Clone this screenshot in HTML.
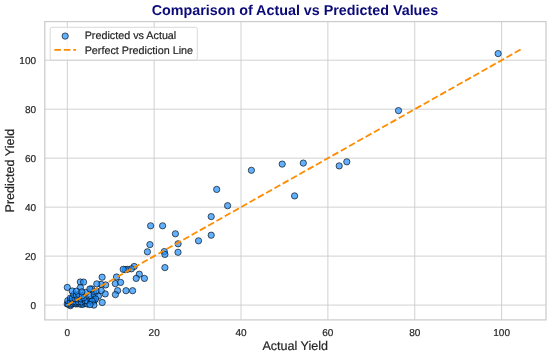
<!DOCTYPE html>
<html><head><meta charset="utf-8"><title>Comparison of Actual vs Predicted Values</title>
<style>
html,body{margin:0;padding:0;background:#fff;}
svg{display:block;text-rendering:geometricPrecision;font-family:"Liberation Sans",Arial,sans-serif;}
.t{fill:#262626;font-size:10.05px;}
text{stroke-width:0.2px;}
.k{stroke:#262626;}
.g{stroke:#cccccc;stroke-width:0.9;fill:none;}
</style></head><body>
<svg width="550" height="356" viewBox="0 0 550 356">
<rect width="550" height="356" fill="#fff"/>

<g class="g">
<line x1="67.3" y1="21.6" x2="67.3" y2="319.9"/>
<line x1="154.16" y1="21.6" x2="154.16" y2="319.9"/>
<line x1="241.02" y1="21.6" x2="241.02" y2="319.9"/>
<line x1="327.88" y1="21.6" x2="327.88" y2="319.9"/>
<line x1="414.74" y1="21.6" x2="414.74" y2="319.9"/>
<line x1="501.6" y1="21.6" x2="501.6" y2="319.9"/>
<line x1="44.8" y1="305.1" x2="546.0" y2="305.1"/>
<line x1="44.8" y1="256.12" x2="546.0" y2="256.12"/>
<line x1="44.8" y1="207.14" x2="546.0" y2="207.14"/>
<line x1="44.8" y1="158.16" x2="546.0" y2="158.16"/>
<line x1="44.8" y1="109.18" x2="546.0" y2="109.18"/>
<line x1="44.8" y1="60.2" x2="546.0" y2="60.2"/>
</g>
<g fill="#1e90ff" fill-opacity="0.7" stroke="#000" stroke-opacity="0.7" stroke-width="0.9">
<circle cx="70.4" cy="305.7" r="3.15"/>
<circle cx="67.19" cy="303.96" r="3.15"/>
<circle cx="68.34" cy="304.05" r="3.15"/>
<circle cx="70.15" cy="303.29" r="3.15"/>
<circle cx="70.92" cy="304.37" r="3.15"/>
<circle cx="72.71" cy="303.53" r="3.15"/>
<circle cx="75.59" cy="303.86" r="3.15"/>
<circle cx="77.4" cy="303.87" r="3.15"/>
<circle cx="79.17" cy="303.41" r="3.15"/>
<circle cx="81.16" cy="304.42" r="3.15"/>
<circle cx="83.03" cy="304.24" r="3.15"/>
<circle cx="85.21" cy="303.29" r="3.15"/>
<circle cx="87.31" cy="304.03" r="3.15"/>
<circle cx="67.76" cy="300.64" r="3.15"/>
<circle cx="70.44" cy="301.26" r="3.15"/>
<circle cx="72.76" cy="301.83" r="3.15"/>
<circle cx="75.76" cy="301.89" r="3.15"/>
<circle cx="78.37" cy="301.72" r="3.15"/>
<circle cx="81.43" cy="301.91" r="3.15"/>
<circle cx="84.95" cy="300.74" r="3.15"/>
<circle cx="87.06" cy="300.9" r="3.15"/>
<circle cx="91.06" cy="301.21" r="3.15"/>
<circle cx="94.15" cy="301.02" r="3.15"/>
<circle cx="70.51" cy="298.04" r="3.15"/>
<circle cx="72.32" cy="298.32" r="3.15"/>
<circle cx="75.1" cy="298.77" r="3.15"/>
<circle cx="77.72" cy="298.8" r="3.15"/>
<circle cx="80.93" cy="298.89" r="3.15"/>
<circle cx="83.71" cy="297.73" r="3.15"/>
<circle cx="90.93" cy="298.85" r="3.15"/>
<circle cx="93.99" cy="298.3" r="3.15"/>
<circle cx="73.76" cy="294.6" r="3.15"/>
<circle cx="76.4" cy="295.1" r="3.15"/>
<circle cx="78.74" cy="294.39" r="3.15"/>
<circle cx="82.42" cy="295.69" r="3.15"/>
<circle cx="90.51" cy="295.42" r="3.15"/>
<circle cx="94.39" cy="294.51" r="3.15"/>
<circle cx="85.75" cy="292.38" r="3.15"/>
<circle cx="93.45" cy="291.36" r="3.15"/>
<circle cx="96.64" cy="291.36" r="3.15"/>
<circle cx="498.15" cy="53.6" r="3.15"/>
<circle cx="398.5" cy="110.6" r="3.15"/>
<circle cx="346.8" cy="161.8" r="3.15"/>
<circle cx="339.2" cy="165.9" r="3.15"/>
<circle cx="303.3" cy="163.1" r="3.15"/>
<circle cx="282.2" cy="164.1" r="3.15"/>
<circle cx="251.4" cy="170.3" r="3.15"/>
<circle cx="294.6" cy="195.9" r="3.15"/>
<circle cx="216.7" cy="189.4" r="3.15"/>
<circle cx="227.6" cy="205.7" r="3.15"/>
<circle cx="211.2" cy="216.6" r="3.15"/>
<circle cx="211.2" cy="235.2" r="3.15"/>
<circle cx="198.5" cy="240.8" r="3.15"/>
<circle cx="150.6" cy="225.8" r="3.15"/>
<circle cx="162.6" cy="225.8" r="3.15"/>
<circle cx="175.4" cy="233.8" r="3.15"/>
<circle cx="149.9" cy="244.6" r="3.15"/>
<circle cx="178.1" cy="243.8" r="3.15"/>
<circle cx="147.4" cy="251.8" r="3.15"/>
<circle cx="164.3" cy="251.6" r="3.15"/>
<circle cx="164.9" cy="254.4" r="3.15"/>
<circle cx="178" cy="252.3" r="3.15"/>
<circle cx="164.9" cy="267.6" r="3.15"/>
<circle cx="134.2" cy="266.5" r="3.15"/>
<circle cx="131.4" cy="268.8" r="3.15"/>
<circle cx="127.5" cy="269.3" r="3.15"/>
<circle cx="125.4" cy="269.6" r="3.15"/>
<circle cx="123.2" cy="269.3" r="3.15"/>
<circle cx="139.3" cy="274.2" r="3.15"/>
<circle cx="136.2" cy="278.4" r="3.15"/>
<circle cx="144.4" cy="278.4" r="3.15"/>
<circle cx="126" cy="290.7" r="3.15"/>
<circle cx="132.6" cy="290.7" r="3.15"/>
<circle cx="117.6" cy="290.6" r="3.15"/>
<circle cx="115.4" cy="294.6" r="3.15"/>
<circle cx="115.3" cy="283.6" r="3.15"/>
<circle cx="120.6" cy="282.4" r="3.15"/>
<circle cx="116.5" cy="277" r="3.15"/>
<circle cx="102.1" cy="277.2" r="3.15"/>
<circle cx="102.2" cy="302.5" r="3.15"/>
<circle cx="105.2" cy="293.9" r="3.15"/>
<circle cx="105.7" cy="284.9" r="3.15"/>
<circle cx="101.2" cy="284.4" r="3.15"/>
<circle cx="96.8" cy="283.9" r="3.15"/>
<circle cx="101.2" cy="290.5" r="3.15"/>
<circle cx="91.7" cy="288.9" r="3.15"/>
<circle cx="98.4" cy="296.2" r="3.15"/>
<circle cx="95.6" cy="299" r="3.15"/>
<circle cx="92.2" cy="301.2" r="3.15"/>
<circle cx="93.9" cy="305.1" r="3.15"/>
<circle cx="90" cy="304.6" r="3.15"/>
<circle cx="67.3" cy="287.4" r="3.15"/>
<circle cx="80.3" cy="282" r="3.15"/>
<circle cx="83.6" cy="282.1" r="3.15"/>
<circle cx="80.4" cy="287.6" r="3.15"/>
<circle cx="72.2" cy="291" r="3.15"/>
<circle cx="76.4" cy="291.2" r="3.15"/>
<circle cx="81.9" cy="291.9" r="3.15"/>
<circle cx="89.9" cy="289" r="3.15"/>
</g>
<line x1="67.3" y1="305.1" x2="521.4" y2="49.1" stroke="#ff8c00" stroke-width="1.8" stroke-dasharray="6.64 2.873"/>
<rect x="44.8" y="21.6" width="501.2" height="298.3" fill="none" stroke="#cccccc" stroke-width="1.25"/>
<text class="t k" x="67.3" y="335.65" text-anchor="middle">0</text>
<text class="t k" x="154.16" y="335.65" text-anchor="middle">20</text>
<text class="t k" x="241.02" y="335.65" text-anchor="middle">40</text>
<text class="t k" x="327.88" y="335.65" text-anchor="middle">60</text>
<text class="t k" x="414.74" y="335.65" text-anchor="middle">80</text>
<text class="t k" x="501.6" y="335.65" text-anchor="middle">100</text>
<text class="t k" x="36.1" y="308.55" text-anchor="end">0</text>
<text class="t k" x="36.1" y="259.57" text-anchor="end">20</text>
<text class="t k" x="36.1" y="210.59" text-anchor="end">40</text>
<text class="t k" x="36.1" y="161.61" text-anchor="end">60</text>
<text class="t k" x="36.1" y="112.63" text-anchor="end">80</text>
<text class="t k" x="36.1" y="63.65" text-anchor="end">100</text>
<text class="k" x="295.2" y="349.5" text-anchor="middle" font-size="12.55" fill="#262626">Actual Yield</text>
<text class="k" transform="translate(14 170.6) rotate(-90)" text-anchor="middle" font-size="12.55" fill="#262626">Predicted Yield</text>
<text x="295" y="15.3" text-anchor="middle" font-size="14.32" font-weight="bold" fill="#0a0a78">Comparison of Actual vs Predicted Values</text>
<rect x="50.2" y="27.3" width="147.1" height="32.8" rx="1.8" fill="#fff" fill-opacity="0.8" stroke="#cccccc" stroke-opacity="0.8" stroke-width="0.9"/>
<circle cx="65.2" cy="36.1" r="3.15" fill="#1e90ff" fill-opacity="0.7" stroke="#000" stroke-opacity="0.7" stroke-width="0.9"/>
<line x1="54.3" y1="49.95" x2="76.1" y2="49.95" stroke="#ff8c00" stroke-width="1.8" stroke-dasharray="6.63 2.87"/>
<text class="k" x="84.7" y="38.65" font-size="10.77" fill="#262626">Predicted vs Actual</text>
<text class="k" x="84.7" y="53.65" font-size="10.77" fill="#262626">Perfect Prediction Line</text>
</svg></body></html>
